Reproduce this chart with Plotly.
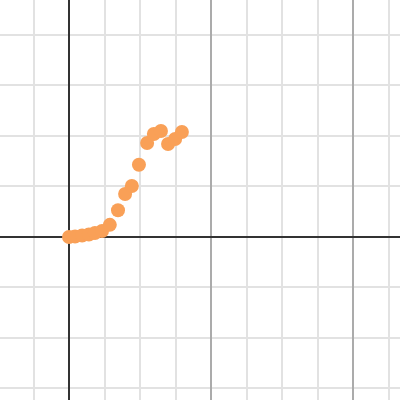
import plotly.graph_objects as go

## points
x_vals = [0.0, 0.17, 0.37, 0.56, 0.73, 0.93, 1.15, 1.38, 1.58, 1.77,
          1.97, 2.20, 2.39, 2.59, 2.79, 2.99, 3.18]
y_vals = [0.0, 0.01, 0.03, 0.05, 0.08, 0.12, 0.24, 0.53, 0.85, 1.01,
          1.43, 1.86, 2.04, 2.10, 1.84, 1.94, 2.08]

fig = go.Figure(go.Scatter(
    x=x_vals, y=y_vals, mode="markers",
    marker=dict(size=14, color="#F9A057", line=dict(width=0)),
    hoverinfo="skip",
))

axis_common = dict(
    showticklabels=False, ticks="", showline=False,
    zeroline=True, zerolinecolor="#333333", zerolinewidth=2,
    showgrid=True, gridwidth=1.5,
)

fig.update_layout(
    width=400, height=400,
    margin=dict(l=0, r=0, t=0, b=0),
    plot_bgcolor="white", paper_bgcolor="white",
    showlegend=False,
    xaxis=dict(axis_common, range=[-1.944, 9.324], dtick=4, tick0=0,
               gridcolor="#ababab",
               minor=dict(dtick=1, tick0=0, showgrid=True,
                          gridcolor="#e2e2e2", gridwidth=1.5)),
    yaxis=dict(axis_common, range=[-3.228, 4.693], dtick=5, tick0=0,
               gridcolor="#ababab",
               minor=dict(dtick=1, tick0=0, showgrid=True,
                          gridcolor="#e2e2e2", gridwidth=1.5)),
)

# drop the browser's default page margin so the plot fills the window
fig.write_html("out.html", config={"displayModeBar": False},
               post_script="document.body.style.margin='0';")
